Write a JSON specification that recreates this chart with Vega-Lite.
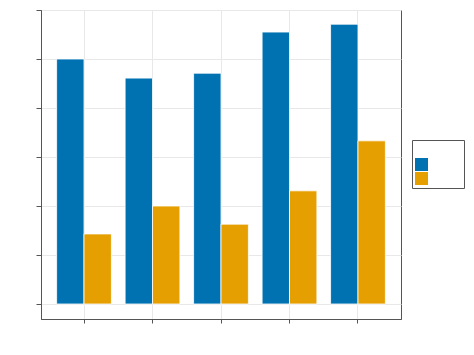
{
  "$schema": "https://vega.github.io/schema/vega-lite/v6.json",
  "autosize": "none",
  "padding": {"left": 41, "top": 10, "right": 73, "bottom": 36},
  "width": 360,
  "height": 309,
  "background": "white",
  "config": {
    "view": {"stroke": "#555555", "strokeWidth": 1},
    "axis": {"domainColor": "#555555", "tickColor": "#555555", "gridColor": "#e8e8e8", "labels": false, "title": null}
  },
  "data": {"values": [
    {"group": "A", "series": "s1", "value": 5.0},
    {"group": "A", "series": "s2", "value": 1.43},
    {"group": "B", "series": "s1", "value": 4.61},
    {"group": "B", "series": "s2", "value": 2.0},
    {"group": "C", "series": "s1", "value": 4.71},
    {"group": "C", "series": "s2", "value": 1.63},
    {"group": "D", "series": "s1", "value": 5.55},
    {"group": "D", "series": "s2", "value": 2.31},
    {"group": "E", "series": "s1", "value": 5.71},
    {"group": "E", "series": "s2", "value": 3.33}
  ]},
  "mark": {"type": "bar", "stroke": "white", "strokeWidth": 0.8},
  "encoding": {
    "x": {"field": "group", "type": "nominal", "scale": {"paddingInner": 0.2, "paddingOuter": 0.228},
      "axis": {"grid": true, "ticks": true, "tickSize": 4, "labels": false, "title": null, "domain": true}},
    "xOffset": {"field": "series", "type": "nominal", "scale": {"paddingInner": 0}},
    "y": {"field": "value", "type": "quantitative", "scale": {"domain": [-0.306, 6], "nice": false, "zero": false},
      "axis": {"values": [0, 1, 2, 3, 4, 5, 6], "grid": true, "tickSize": 5, "labels": false, "title": null}},
    "color": {"field": "series", "type": "nominal", "scale": {"domain": ["s1", "s2"], "range": ["#0072B2", "#E69F00"]},
      "legend": {"orient": "none", "legendX": 371, "legendY": 130, "title": " ", "titleFontSize": 11, "titlePadding": 4, "labelExpr": "''", "labelFontSize": 1, "symbolType": "square", "symbolSize": 169, "symbolStrokeWidth": 0, "strokeColor": "#555555", "padding": 3, "fillColor": "white", "rowPadding": 1, "symbolOffset": 0, "labelOffset": 33}}
  }
}
